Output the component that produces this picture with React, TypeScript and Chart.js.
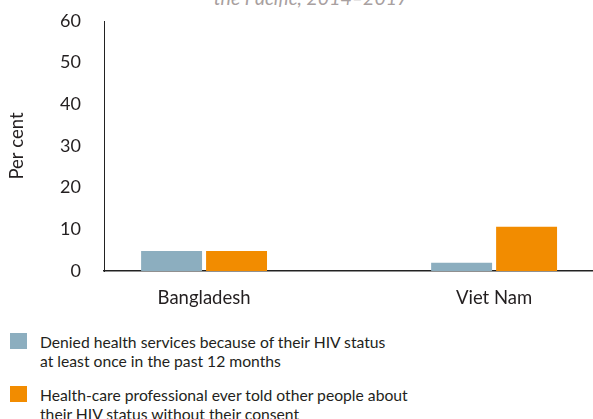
import React, { useEffect, useRef } from "react";
import { Chart, registerables } from "chart.js";

Chart.register(...registerables);

const categories = ["Bangladesh", "Viet Nam"];
const deniedServices = [4.8, 2.0];
const disclosedStatus = [4.8, 10.6];
const yTicks = [0, 10, 20, 30, 40, 50, 60];
const seriesLabels = [
  ["Denied health services because of their HIV status", "at least once in the past 12 months"],
  ["Health-care professional ever told other people about", "their HIV status without their consent"],
];
const colors = ["#8CAEBF", "#F28C00"];
const titleTail = "the Pacific, 2014\u20132017";

const FONT = "Lato, 'Open Sans', sans-serif";
const TEXT = "#231f20";

export default function App() {
  const ref = useRef<HTMLCanvasElement | null>(null);

  useEffect(() => {
    document.body.style.margin = "0";
    const ctx = ref.current!;
    const chart = new Chart(ctx, {
      type: "bar",
      data: {
        datasets: [
          {
            label: seriesLabels[0].join(" "),
            data: deniedServices.map((v, i) => ({ x: i, y: v })),
            backgroundColor: colors[0],
            borderWidth: 0,
          },
          {
            label: seriesLabels[1].join(" "),
            data: disclosedStatus.map((v, i) => ({ x: i, y: v })),
            backgroundColor: colors[1],
            borderWidth: 0,
          },
        ],
      },
      options: {
        animation: false,
        responsive: false,
        maintainAspectRatio: false,
        events: [],
        categoryPercentage: 0.448,
        barPercentage: 0.938,
        layout: { padding: { top: 21, right: 0, left: 0, bottom: 0 } },
        plugins: {
          legend: { display: false },
          tooltip: { enabled: false },
          title: { display: false },
        },
        scales: {
          x: {
            type: "linear",
            offset: false,
            min: -0.345,
            max: 1.341,
            grid: { display: false, offset: false, drawTicks: false },
            border: { display: true, color: "#222", width: 1.5 },
            afterBuildTicks: (scale: any) => {
              scale.ticks = categories.map((_, i) => ({ value: i }));
            },
            afterFit: (scale: any) => {
              scale.height = 49;
              scale.paddingLeft = 0;
              scale.paddingRight = 0;
            },
            ticks: {
              padding: 16,
              color: TEXT,
              font: { family: FONT, size: 18.5 },
              maxRotation: 0,
              autoSkip: false,
              callback: (v: any) => categories[v as number] ?? "",
            },
          },
          y: {
            min: 0,
            max: 60,
            grid: { display: false, drawTicks: false },
            border: { display: true, color: "#222", width: 1 },
            afterBuildTicks: (scale: any) => {
              scale.ticks = yTicks.map((v) => ({ value: v }));
            },
            afterFit: (scale: any) => {
              scale.width = 104;
              scale.paddingTop = 0;
              scale.paddingBottom = 0;
            },
            ticks: {
              padding: 23,
              color: TEXT,
              font: { family: FONT, size: 18 },
            },
            title: {
              display: true,
              text: "Per cent",
              color: TEXT,
              font: { family: FONT, size: 18.5 },
              padding: { top: 6, bottom: 0 },
            },
          },
        },
      },
    });
    return () => chart.destroy();
  }, []);

  const legendTops = [333, 386];

  return (
    <div style={{ position: "relative", width: 593, height: 419, overflow: "hidden", fontFamily: FONT }}>
      <div
        style={{
          position: "absolute",
          top: -14,
          left: 0,
          width: 622,
          textAlign: "center",
          fontStyle: "italic",
          fontSize: 19.5,
          color: "#a8a0a0",
          whiteSpace: "nowrap",
        }}
      >
        {titleTail}
      </div>
      <canvas ref={ref} width={593} height={320} style={{ position: "absolute", top: 0, left: 0 }} />
      {seriesLabels.map((lines, i) => (
        <div key={i} style={{ position: "absolute", top: legendTops[i], left: 10 }}>
          <div style={{ position: "absolute", left: 0, top: 0, width: 17, height: 16, background: colors[i] }} />
          <div
            style={{
              position: "absolute",
              left: 30,
              top: 0,
              fontSize: 15.7,
              lineHeight: "19px",
              color: TEXT,
              whiteSpace: "nowrap",
            }}
          >
            {lines[0]}
            <br />
            {lines[1]}
          </div>
        </div>
      ))}
    </div>
  );
}
